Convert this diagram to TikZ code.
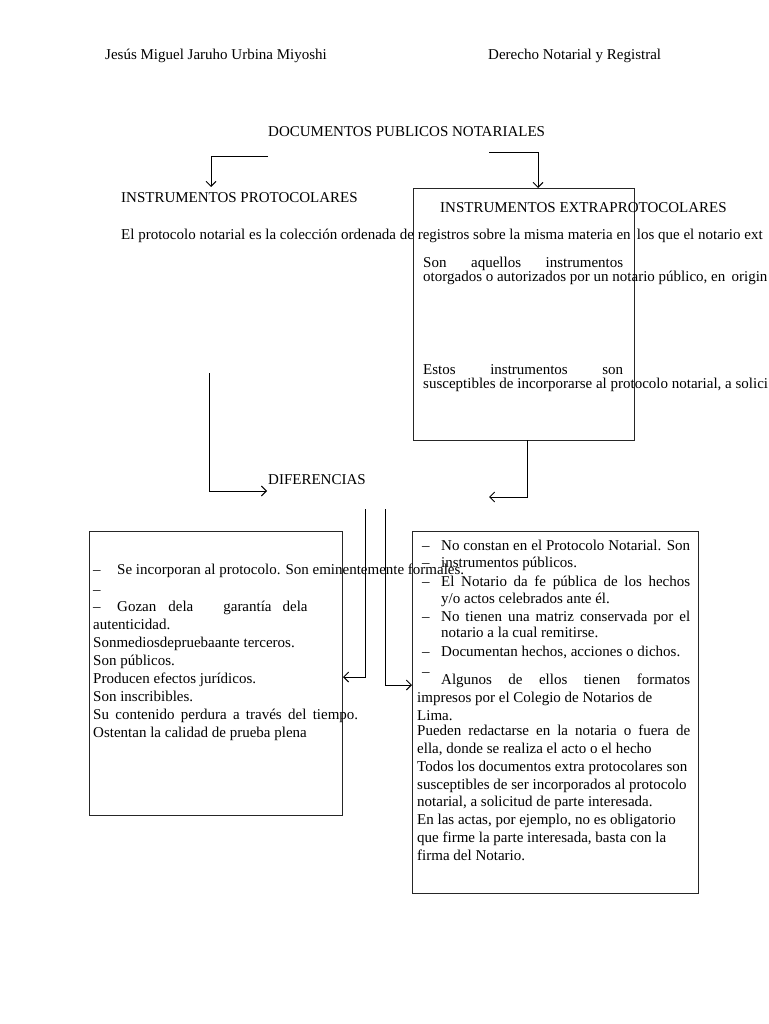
\documentclass[tikz,border=0pt]{standalone}
\usepackage{fontspec}
\setmainfont{Liberation Serif}
\usetikzlibrary{arrows.meta,positioning}

% justified line of given width
\newcommand{\justo}[2]{\makebox[#1pt][s]{#2}}

\begin{document}
\begin{tikzpicture}[x=1pt,y=-1pt,
        texto/.style={anchor=base west, inner sep=0pt, font=\fontsize{15}{18}\selectfont},
        caja/.style={draw=black!85, line width=0.9pt, rectangle, inner sep=0pt, anchor=north west},
        flecha/.style={line width=0.9pt, -{Straight Barb[length=5pt,width=10pt]}}]
    \useasboundingbox (0,0) rectangle (768,1024);

    % Header
    \node[texto] (autor) at (105,60) {Jesús Miguel Jaruho Urbina Miyoshi};
    \node[texto] (curso) at (488,60) {Derecho Notarial y Registral};

    % Titles
    \node[texto] (titulo) at (268,137) {DOCUMENTOS PUBLICOS NOTARIALES};
    \node[texto] (proto) at (121,203) {INSTRUMENTOS PROTOCOLARES};
    \node[texto] (protodef) at (121,240) {El protocolo notarial es la colección ordenada de registros sobre la misma materia en\, los que el notario ext};
    \node[texto] (dif) at (268,484) {DIFERENCIAS};

    % Boxes
    \node[caja, minimum width=221, minimum height=252] (cajaExt) at (413,188) {};
    \node[caja, minimum width=253, minimum height=284] (cajaIzq) at (89,531) {};
    \node[caja, minimum width=286, minimum height=362] (cajaDer) at (412,531) {};

    % Box {extra}
    \node[texto] (extra) at (440,213) {INSTRUMENTOS EXTRAPROTOCOLARES};
    \node[texto] (ext1) at (423,267) {\justo{200}{Son aquellos instrumentos}};
    \node[texto] (ext2) at (423,281) {otorgados o autorizados por un notario público, en\, origin};
    \node[texto] (ext3) at (423,374) {\justo{200}{Estos instrumentos son}};
    \node[texto] (ext4) at (423,388) {susceptibles de incorporarse al protocolo notarial, a solici};

    % Box {protocolares}
    \foreach \i/\y in {1/574, 2/594, 3/611}
        \node[texto] (izqGuion\i) at (93,\y) {--};
    \node[texto] (izq1) at (117,574) {Se incorporan al protocolo. Son eminentemente formales.};
    \node[texto] (izq3) at (117,611) {Gozan\hspace{12pt}dela\hspace{30pt}garantía\hspace{11pt}dela};
    \foreach \i/\y/\t in {4/629/autenticidad., 5/647/Sonmediosdepruebaante terceros., 6/665/Son públicos.,
                          7/683/Producen efectos jurídicos., 8/701/Son inscribibles.,
                          9/719/{\justo{265}{Su contenido perdura a través del tiempo.}},
                          10/737/Ostentan la calidad de prueba plena}
        \node[texto] (izq\i) at (93,\y) {\t};

    % Box {extraprotocolares}
    \foreach \i/\y in {1/550, 2/567, 3/586, 5/621, 7/656, 8/676}
        \node[texto] (derGuion\i) at (422,\y) {--};
    \foreach \i/\y/\t in {1/550/{\justo{249}{No constan en el Protocolo Notarial. Son}},
                          2/567/instrumentos públicos.,
                          3/586/{\justo{249}{El Notario da fe pública de los hechos}},
                          4/603/{y/o actos celebrados ante él.},
                          5/621/{\justo{249}{No tienen una matriz conservada por el}},
                          6/637/notario a la cual remitirse.,
                          7/656/{Documentan hechos, acciones o dichos.},
                          8/684/{\justo{249}{Algunos de ellos tienen formatos}}}
        \node[texto] (der\i) at (441,\y) {\t};
    \foreach \i/\y/\t in {9/702/impresos por el Colegio de Notarios de,
                          10/720/Lima.,
                          11/735/{\justo{273}{Pueden redactarse en la notaria o fuera de}},
                          12/753/{ella, donde se realiza el acto o el hecho},
                          13/771/Todos los documentos extra protocolares son,
                          14/789/susceptibles de ser incorporados al protocolo,
                          15/806/{notarial, a solicitud de parte interesada.},
                          16/824/{En las actas, por ejemplo, no es obligatorio},
                          17/842/{que firme la parte interesada, basta con la},
                          18/860/firma del Notario.}
        \node[texto] (der\i) at (417,\y) {\t};

    % Arrows
    \coordinate (t1) at (268,156);
    \coordinate (protoArr) at (211,187);
    \coordinate (t2) at (489,152);
    \coordinate (extArr) at (538,188);
    \coordinate (d1) at (209,373);
    \coordinate (difArr) at (267,491);
    \coordinate (e1) at (527,440);
    \coordinate (e2) at (489,497);
    \coordinate (m1) at (365,509);
    \coordinate (izqArr) at (343,677);
    \coordinate (m2) at (385,509);
    \coordinate (derArr) at (412,685);

    \draw[flecha] (t1) -| (protoArr);
    \draw[flecha] (t2) -| (extArr);
    \draw[flecha] (d1) |- (difArr);
    \draw[flecha] (e1) |- (e2);
    \draw[flecha] (m1) |- (izqArr);
    \draw[flecha] (m2) |- (derArr);
\end{tikzpicture}
\end{document}
